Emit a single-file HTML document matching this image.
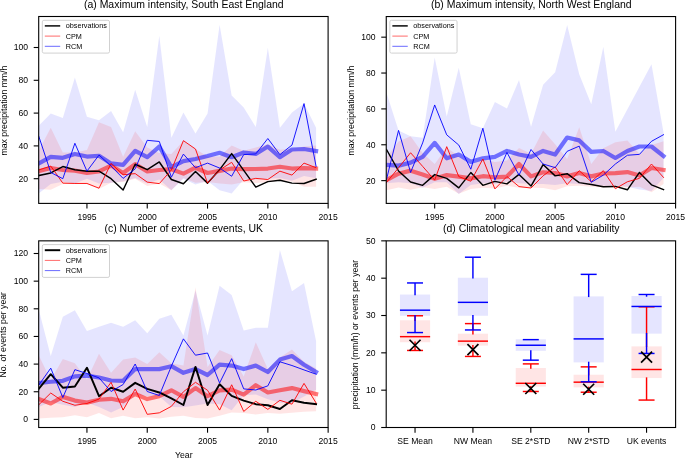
<!DOCTYPE html>
<html lang="en"><head><meta charset="utf-8"><title>Extreme precipitation figure</title>
<style>
html,body{margin:0;padding:0;background:#fff;}
body{width:685px;height:458px;overflow:hidden;}
svg{display:block;}
svg text{font-family:"Liberation Sans", Arial, Helvetica, sans-serif;fill:#000;}
</style></head><body>
<svg width="685" height="458" viewBox="0 0 685 458">
<rect width="685" height="458" fill="#fff"/>
<clipPath id="ca"><rect x="38.7" y="16.5" width="289.4" height="186.9"/></clipPath>
<g clip-path="url(#ca)">
<polygon points="38.7,125.73 50.76,113.59 62.82,118.02 74.88,77.51 86.94,116.87 99,120.15 111.06,110.97 123.12,132.29 135.18,89.65 147.24,126.88 159.3,35.86 171.36,137.7 183.42,112.61 195.48,133.44 207.54,113.59 219.6,24.87 231.66,95.55 243.72,107.52 255.78,126.88 267.84,47.83 279.9,127.86 291.96,112.61 304.02,103.59 316.08,127.86 316.08,178.37 304.02,176.08 291.96,180.67 279.9,177.88 267.84,178.7 255.78,179.52 243.72,179.52 231.66,193.46 219.6,190.34 207.54,181 195.48,184.6 183.42,178.7 171.36,190.34 159.3,179.52 147.24,183.62 135.18,178.04 123.12,181.16 111.06,182.64 99,183.62 86.94,178.7 74.88,183.62 62.82,181.65 50.76,183.95 38.7,193.46" fill="#0000ff" fill-opacity="0.1"/>
<polygon points="38.7,150.82 50.76,127.86 62.82,152.46 74.88,152.46 86.94,150 99,122.28 111.06,127.04 123.12,156.72 135.18,131.14 147.24,147.54 159.3,153.12 171.36,154.1 183.42,140.65 195.48,149.02 207.54,156.4 219.6,156.4 231.66,145.41 243.72,150.82 255.78,147.54 267.84,144.26 279.9,149.84 291.96,148.69 304.02,146.56 316.08,145.41 316.08,186.74 304.02,186.74 291.96,181.82 279.9,180.5 267.84,182.31 255.78,182.96 243.72,182.31 231.66,184.6 219.6,183.62 207.54,181.98 195.48,182.8 183.42,178.04 171.36,190.18 159.3,183.62 147.24,186.08 135.18,178.7 123.12,181.98 111.06,182.64 99,189.03 86.94,183.95 74.88,183.95 62.82,183.95 50.76,189.69 38.7,189.03" fill="#ff0000" fill-opacity="0.1"/>
<polyline points="38.7,171.16 50.76,168.04 62.82,170.01 74.88,170.66 86.94,172.96 99,171.48 111.06,165.58 123.12,172.96 135.18,164.1 147.24,171.48 159.3,170.01 171.36,169.19 183.42,173.62 195.48,167.71 207.54,172.96 219.6,170.83 231.66,168.53 243.72,169.19 255.78,169.02 267.84,168.53 279.9,166.73 291.96,168.53 304.02,168.2 316.08,168.53" fill="none" stroke="#ff0000" stroke-width="4.2" stroke-opacity="0.52" stroke-linejoin="round" stroke-linecap="square"/>
<polyline points="38.7,163.45 50.76,156.89 62.82,157.87 74.88,153.94 86.94,156.56 99,155.74 111.06,163.45 123.12,164.92 135.18,150.98 147.24,157.22 159.3,146.56 171.36,167.06 183.42,161.15 195.48,159.02 207.54,156.07 219.6,152.79 231.66,157.22 243.72,152.46 255.78,153.94 267.84,146.56 279.9,157.22 291.96,149.51 304.02,149.02 316.08,150.98" fill="none" stroke="#0000ff" stroke-width="4.2" stroke-opacity="0.52" stroke-linejoin="round" stroke-linecap="square"/>
<polyline points="38.7,175.58 50.76,172.96 62.82,166.56 74.88,169.68 86.94,171.16 99,171.16 111.06,178.7 123.12,190.02 135.18,164.27 147.24,169.68 159.3,161.97 171.36,179.52 183.42,183.78 195.48,171.48 207.54,183.13 219.6,169.68 231.66,153.61 243.72,170.34 255.78,187.06 267.84,181.65 279.9,180.18 291.96,183.13 304.02,183.46 316.08,179.19" fill="none" stroke="#000" stroke-width="1.45" stroke-linejoin="round" stroke-linecap="square"/>
<polyline points="38.7,170.01 50.76,166.07 62.82,183.13 74.88,183.46 86.94,183.46 99,188.21 111.06,163.45 123.12,174.76 135.18,173.62 147.24,182.14 159.3,183.62 171.36,170.01 183.42,140.65 195.48,149.02 207.54,183.13 219.6,170.01 231.66,162.3 243.72,181 255.78,178.37 267.84,179.52 279.9,171.16 291.96,175.09 304.02,163.12 316.08,167.71" fill="none" stroke="#ff0000" stroke-width="0.9" stroke-linejoin="round" stroke-linecap="square"/>
<polyline points="38.7,136.06 50.76,172.47 62.82,178.7 74.88,143.28 86.94,171.16 99,155.08 111.06,166.07 123.12,178.37 135.18,168.86 147.24,140.32 159.3,141.47 171.36,177.22 183.42,154.1 195.48,167.71 207.54,163.12 219.6,168.04 231.66,176.24 243.72,154.59 255.78,153.94 267.84,138.52 279.9,154.59 291.96,145.08 304.02,103.59 316.08,166.4" fill="none" stroke="#0000ff" stroke-width="0.9" stroke-linejoin="round" stroke-linecap="square"/>
</g>
<rect x="42.3" y="20.3" width="67.2" height="32.8" rx="1.6" fill="#fff" fill-opacity="0.8" stroke="#ccc" stroke-width="0.9"/>
<line x1="44.8" x2="60.2" y1="25.9" y2="25.9" stroke="#000" stroke-width="1.45" stroke-opacity="1"/>
<text x="65.7" y="28.4" font-size="7.25">observations</text>
<line x1="44.8" x2="60.2" y1="36.1" y2="36.1" stroke="#ff0000" stroke-width="0.95" stroke-opacity="0.62"/>
<text x="65.7" y="38.6" font-size="7.25">CPM</text>
<line x1="44.8" x2="60.2" y1="46.3" y2="46.3" stroke="#0000ff" stroke-width="0.95" stroke-opacity="0.62"/>
<text x="65.7" y="48.8" font-size="7.25">RCM</text>
<rect x="38.7" y="16.5" width="289.4" height="186.9" fill="none" stroke="#000" stroke-width="1.1"/>
<line x1="86.94" x2="86.94" y1="203.4" y2="208.6" stroke="#000" stroke-width="1.1"/>
<text x="86.94" y="220.1" font-size="8.6" text-anchor="middle">1995</text>
<line x1="147.24" x2="147.24" y1="203.4" y2="208.6" stroke="#000" stroke-width="1.1"/>
<text x="147.24" y="220.1" font-size="8.6" text-anchor="middle">2000</text>
<line x1="207.54" x2="207.54" y1="203.4" y2="208.6" stroke="#000" stroke-width="1.1"/>
<text x="207.54" y="220.1" font-size="8.6" text-anchor="middle">2005</text>
<line x1="267.84" x2="267.84" y1="203.4" y2="208.6" stroke="#000" stroke-width="1.1"/>
<text x="267.84" y="220.1" font-size="8.6" text-anchor="middle">2010</text>
<line x1="328.14" x2="328.14" y1="203.4" y2="208.6" stroke="#000" stroke-width="1.1"/>
<text x="328.14" y="220.1" font-size="8.6" text-anchor="middle">2015</text>
<line x1="33.7" x2="38.7" y1="178.7" y2="178.7" stroke="#000" stroke-width="1.1"/>
<text x="28.1" y="181.6" font-size="8.6" text-anchor="end">20</text>
<line x1="33.7" x2="38.7" y1="145.9" y2="145.9" stroke="#000" stroke-width="1.1"/>
<text x="28.1" y="148.8" font-size="8.6" text-anchor="end">40</text>
<line x1="33.7" x2="38.7" y1="113.1" y2="113.1" stroke="#000" stroke-width="1.1"/>
<text x="28.1" y="116" font-size="8.6" text-anchor="end">60</text>
<line x1="33.7" x2="38.7" y1="80.3" y2="80.3" stroke="#000" stroke-width="1.1"/>
<text x="28.1" y="83.2" font-size="8.6" text-anchor="end">80</text>
<line x1="33.7" x2="38.7" y1="47.5" y2="47.5" stroke="#000" stroke-width="1.1"/>
<text x="28.1" y="50.4" font-size="8.6" text-anchor="end">100</text>
<text x="183.8" y="7.8" font-size="10.46" text-anchor="middle">(a) Maximum intensity, South East England</text>
<text transform="translate(6.5,110.55) rotate(-90)" font-size="8.7" text-anchor="middle">max precipitation mm/h</text>
<clipPath id="cb"><rect x="386.25" y="16.55" width="289.35" height="186.85"/></clipPath>
<g clip-path="url(#cb)">
<polygon points="386.5,92.79 398.55,130.38 410.59,136.29 422.63,137.72 434.68,57.53 446.73,116.6 458.77,67.73 470.81,124.29 482.86,128.23 494.9,101.92 506.95,108.54 519,80.08 531.04,126.8 543.09,84.74 555.13,72.21 567.17,24.95 579.22,74.17 591.26,104.25 603.31,46.79 615.36,131.63 627.4,109.26 639.44,86.7 651.49,64.33 663.54,132.53 663.54,177.99 651.49,191.06 639.44,189.45 627.4,186.77 615.36,185.87 603.31,185.87 591.26,184.98 579.22,184.08 567.17,183.19 555.13,184.98 543.09,184.08 531.04,184.08 519,183.19 506.95,181.4 494.9,184.08 482.86,183.19 470.81,184.98 458.77,194.1 446.73,182.29 434.68,182.29 422.63,187.84 410.59,183.19 398.55,182.29 386.5,183.19" fill="#0000ff" fill-opacity="0.1"/>
<polygon points="386.5,157.23 398.55,141.48 410.59,136.29 422.63,153.11 434.68,164.03 446.73,147.38 458.77,156.16 470.81,164.93 482.86,159.02 494.9,161.88 506.95,160.45 519,148.1 531.04,153.83 543.09,130.38 555.13,144.34 567.17,159.02 579.22,127.34 591.26,164.03 603.31,148.28 615.36,142.19 627.4,140.4 639.44,153.65 651.49,144.88 663.54,141.3 663.54,184.08 651.49,192.14 639.44,186.77 627.4,187.48 615.36,186.77 603.31,187.48 591.26,186.77 579.22,185.87 567.17,186.23 555.13,190.34 543.09,188.02 531.04,187.66 519,187.66 506.95,185.87 494.9,188.56 482.86,187.66 470.81,188.91 458.77,193.75 446.73,186.77 434.68,188.91 422.63,187.3 410.59,189.63 398.55,187.48 386.5,190.34" fill="#ff0000" fill-opacity="0.1"/>
<polyline points="386.5,180.14 398.55,173.7 410.59,170.66 422.63,174.41 434.68,178.71 446.73,175.13 458.77,176.56 470.81,178.35 482.86,176.2 494.9,177.28 506.95,176.56 519,164.03 531.04,176.38 543.09,172.27 555.13,172.98 567.17,176.38 579.22,172.98 591.26,176.38 603.31,173.52 615.36,173.16 627.4,172.09 639.44,175.49 651.49,167.97 663.54,169.94" fill="none" stroke="#ff0000" stroke-width="4.2" stroke-opacity="0.52" stroke-linejoin="round" stroke-linecap="square"/>
<polyline points="386.5,164.93 398.55,165.64 410.59,162.6 422.63,156.87 434.68,142.91 446.73,158.3 458.77,154.55 470.81,161.88 482.86,158.3 494.9,156.87 506.95,150.97 519,154.55 531.04,156.87 543.09,150.97 555.13,154.55 567.17,137.54 579.22,140.4 591.26,151.86 603.31,150.97 615.36,157.95 627.4,150.97 639.44,146.49 651.49,146.49 663.54,156.16" fill="none" stroke="#0000ff" stroke-width="4.2" stroke-opacity="0.52" stroke-linejoin="round" stroke-linecap="square"/>
<polyline points="386.5,149.53 398.55,171.01 410.59,181.93 422.63,185.33 434.68,174.59 446.73,178.35 458.77,187.84 470.81,172.62 482.86,185.33 494.9,181.4 506.95,183.9 519,174.41 531.04,186.05 543.09,164.57 555.13,175.85 567.17,173.7 579.22,182.65 591.26,184.44 603.31,186.77 615.36,186.41 627.4,189.81 639.44,172.44 651.49,184.8 663.54,189.63" fill="none" stroke="#000" stroke-width="1.45" stroke-linejoin="round" stroke-linecap="square"/>
<polyline points="386.5,182.47 398.55,167.79 410.59,152.75 422.63,166.36 434.68,180.14 446.73,146.67 458.77,176.56 470.81,181.22 482.86,159.02 494.9,188.91 506.95,176.56 519,186.59 531.04,188.02 543.09,175.85 555.13,166.9 567.17,184.62 579.22,170.66 591.26,181.75 603.31,170.66 615.36,188.73 627.4,181.75 639.44,178.35 651.49,164.03 663.54,177.46" fill="none" stroke="#ff0000" stroke-width="0.9" stroke-linejoin="round" stroke-linecap="square"/>
<polyline points="386.5,179.43 398.55,130.38 410.59,172.44 422.63,142.91 434.68,104.96 446.73,134.86 458.77,145.06 470.81,169.22 482.86,128.23 494.9,180.14 506.95,152.4 519,175.13 531.04,149.53 543.09,164.03 555.13,167.61 567.17,151.32 579.22,146.13 591.26,182.29 603.31,175.13 615.36,164.03 627.4,155.26 639.44,154.37 651.49,141.3 663.54,134.68" fill="none" stroke="#0000ff" stroke-width="0.9" stroke-linejoin="round" stroke-linecap="square"/>
</g>
<rect x="389.85" y="20.3" width="67.2" height="32.8" rx="1.6" fill="#fff" fill-opacity="0.8" stroke="#ccc" stroke-width="0.9"/>
<line x1="392.35" x2="407.75" y1="25.9" y2="25.9" stroke="#000" stroke-width="1.45" stroke-opacity="1"/>
<text x="413.25" y="28.4" font-size="7.25">observations</text>
<line x1="392.35" x2="407.75" y1="36.1" y2="36.1" stroke="#ff0000" stroke-width="0.95" stroke-opacity="0.62"/>
<text x="413.25" y="38.6" font-size="7.25">CPM</text>
<line x1="392.35" x2="407.75" y1="46.3" y2="46.3" stroke="#0000ff" stroke-width="0.95" stroke-opacity="0.62"/>
<text x="413.25" y="48.8" font-size="7.25">RCM</text>
<rect x="386.25" y="16.55" width="289.35" height="186.85" fill="none" stroke="#000" stroke-width="1.1"/>
<line x1="434.68" x2="434.68" y1="203.4" y2="208.6" stroke="#000" stroke-width="1.1"/>
<text x="434.68" y="220.1" font-size="8.6" text-anchor="middle">1995</text>
<line x1="494.9" x2="494.9" y1="203.4" y2="208.6" stroke="#000" stroke-width="1.1"/>
<text x="494.9" y="220.1" font-size="8.6" text-anchor="middle">2000</text>
<line x1="555.13" x2="555.13" y1="203.4" y2="208.6" stroke="#000" stroke-width="1.1"/>
<text x="555.13" y="220.1" font-size="8.6" text-anchor="middle">2005</text>
<line x1="615.36" x2="615.36" y1="203.4" y2="208.6" stroke="#000" stroke-width="1.1"/>
<text x="615.36" y="220.1" font-size="8.6" text-anchor="middle">2010</text>
<line x1="675.58" x2="675.58" y1="203.4" y2="208.6" stroke="#000" stroke-width="1.1"/>
<text x="675.58" y="220.1" font-size="8.6" text-anchor="middle">2015</text>
<line x1="381.25" x2="386.25" y1="180.63" y2="180.63" stroke="#000" stroke-width="1.1"/>
<text x="375.65" y="183.53" font-size="8.6" text-anchor="end">20</text>
<line x1="381.25" x2="386.25" y1="144.77" y2="144.77" stroke="#000" stroke-width="1.1"/>
<text x="375.65" y="147.67" font-size="8.6" text-anchor="end">40</text>
<line x1="381.25" x2="386.25" y1="108.9" y2="108.9" stroke="#000" stroke-width="1.1"/>
<text x="375.65" y="111.8" font-size="8.6" text-anchor="end">60</text>
<line x1="381.25" x2="386.25" y1="73.04" y2="73.04" stroke="#000" stroke-width="1.1"/>
<text x="375.65" y="75.94" font-size="8.6" text-anchor="end">80</text>
<line x1="381.25" x2="386.25" y1="37.17" y2="37.17" stroke="#000" stroke-width="1.1"/>
<text x="375.65" y="40.07" font-size="8.6" text-anchor="end">100</text>
<text x="531.32" y="7.85" font-size="10.46" text-anchor="middle">(b) Maximum intensity, North West England</text>
<text transform="translate(354.15,110.58) rotate(-90)" font-size="8.7" text-anchor="middle">max precipitation mm/h</text>
<clipPath id="cc"><rect x="38.7" y="240.85" width="289.4" height="186.65"/></clipPath>
<g clip-path="url(#cc)">
<polygon points="38.7,309.15 50.76,356.04 62.82,316.85 74.88,310.25 86.94,331.01 99,326.75 111.06,322.76 123.12,326.75 135.18,320.15 147.24,333.21 159.3,318.64 171.36,314.65 183.42,335.41 195.48,290.59 207.54,335.41 219.6,285.78 231.66,294.99 243.72,330.6 255.78,327.85 267.84,327.85 279.9,250.03 291.96,291.14 304.02,282.89 316.08,341.05 316.08,389.86 304.02,396.46 291.96,402.93 279.9,402.79 267.84,399.35 255.78,394.54 243.72,395.23 231.66,410.21 219.6,404.16 207.54,403.48 195.48,405.54 183.42,407.33 171.36,407.05 159.3,396.19 147.24,396.19 135.18,394.68 123.12,406.91 111.06,412.41 99,406.91 86.94,402.51 74.88,406.91 62.82,404.71 50.76,402.1 38.7,406.91" fill="#0000ff" fill-opacity="0.1"/>
<polygon points="38.7,355.35 50.76,380.1 62.82,358.93 74.88,363.33 86.94,379.41 99,353.84 111.06,372.81 123.12,359.61 135.18,357.41 147.24,364.01 159.3,352.33 171.36,363.19 183.42,365.53 195.48,287.29 207.54,366.9 219.6,350.12 231.66,355.21 243.72,376.39 255.78,342.29 267.84,369.1 279.9,357.41 291.96,349.44 304.02,361.81 316.08,368.41 316.08,411.31 304.02,411.73 291.96,412.83 279.9,413.65 267.84,413.1 255.78,414.61 243.72,413.1 231.66,412.41 219.6,415.85 207.54,418.6 195.48,417.91 183.42,415.71 171.36,416.68 159.3,418.6 147.24,417.36 135.18,418.33 123.12,415.71 111.06,418.33 99,413.1 86.94,417.36 74.88,415.16 62.82,417.36 50.76,417.78 38.7,418.6" fill="#ff0000" fill-opacity="0.1"/>
<polyline points="38.7,399.08 50.76,403.48 62.82,396.88 74.88,400.59 86.94,402.65 99,399.76 111.06,398.8 123.12,401.28 135.18,393.99 147.24,399.08 159.3,396.19 171.36,390.28 183.42,396.88 195.48,388.08 207.54,396.19 219.6,390.28 231.66,389.59 243.72,394.68 255.78,385.19 267.84,392.48 279.9,390.28 291.96,388.08 304.02,391.1 316.08,393.99" fill="none" stroke="#ff0000" stroke-width="4.2" stroke-opacity="0.52" stroke-linejoin="round" stroke-linecap="square"/>
<polyline points="38.7,382.99 50.76,381.75 62.82,380.79 74.88,376.39 86.94,375.7 99,377.49 111.06,380.51 123.12,380.79 135.18,369.1 147.24,369.1 159.3,369.1 171.36,366.21 183.42,372.81 195.48,369.1 207.54,375.01 219.6,364.7 231.66,365.53 243.72,369.1 255.78,365.53 267.84,371.99 279.9,359.61 291.96,356.04 304.02,364.7 316.08,371.99" fill="none" stroke="#0000ff" stroke-width="4.2" stroke-opacity="0.52" stroke-linejoin="round" stroke-linecap="square"/>
<polyline points="38.7,388.9 50.76,374.19 62.82,387.66 74.88,386.43 86.94,367.73 99,396.19 111.06,387.8 123.12,391.79 135.18,382.85 147.24,388.9 159.3,392.48 171.36,398.39 183.42,404.99 195.48,366.9 207.54,404.99 219.6,384.23 231.66,395.91 243.72,400.59 255.78,404.16 267.84,405.26 279.9,408.98 291.96,400.31 304.02,402.79 316.08,404.16" fill="none" stroke="#000" stroke-width="1.95" stroke-linejoin="round" stroke-linecap="square"/>
<polyline points="38.7,404.85 50.76,393.03 62.82,401.28 74.88,405.26 86.94,403.48 99,399.08 111.06,382.3 123.12,410.08 135.18,389.04 147.24,414.34 159.3,412.83 171.36,406.36 183.42,391.79 195.48,382.3 207.54,390.28 219.6,410.08 231.66,384.78 243.72,411.45 255.78,401.28 267.84,409.39 279.9,400.31 291.96,404.16 304.02,383.4 316.08,402.93" fill="none" stroke="#ff0000" stroke-width="0.9" stroke-linejoin="round" stroke-linecap="square"/>
<polyline points="38.7,385.19 50.76,368.14 62.82,397.56 74.88,369.65 86.94,373.5 99,377.9 111.06,391.51 123.12,384.5 135.18,364.01 147.24,391.51 159.3,395.5 171.36,366.21 183.42,338.85 195.48,355.21 207.54,353.01 219.6,382.99 231.66,358.65 243.72,388.9 255.78,390 267.84,385.88 279.9,361.81 291.96,365.53 304.02,369.93 316.08,374.19" fill="none" stroke="#0000ff" stroke-width="0.9" stroke-linejoin="round" stroke-linecap="square"/>
</g>
<rect x="42.3" y="244.6" width="67.2" height="32.8" rx="1.6" fill="#fff" fill-opacity="0.8" stroke="#ccc" stroke-width="0.9"/>
<line x1="44.8" x2="60.2" y1="250.2" y2="250.2" stroke="#000" stroke-width="1.95" stroke-opacity="1"/>
<text x="65.7" y="252.7" font-size="7.25">observations</text>
<line x1="44.8" x2="60.2" y1="260.4" y2="260.4" stroke="#ff0000" stroke-width="0.95" stroke-opacity="0.62"/>
<text x="65.7" y="262.9" font-size="7.25">CPM</text>
<line x1="44.8" x2="60.2" y1="270.6" y2="270.6" stroke="#0000ff" stroke-width="0.95" stroke-opacity="0.62"/>
<text x="65.7" y="273.1" font-size="7.25">RCM</text>
<rect x="38.7" y="240.85" width="289.4" height="186.65" fill="none" stroke="#000" stroke-width="1.1"/>
<line x1="86.94" x2="86.94" y1="427.5" y2="432.7" stroke="#000" stroke-width="1.1"/>
<text x="86.94" y="444.2" font-size="8.6" text-anchor="middle">1995</text>
<line x1="147.24" x2="147.24" y1="427.5" y2="432.7" stroke="#000" stroke-width="1.1"/>
<text x="147.24" y="444.2" font-size="8.6" text-anchor="middle">2000</text>
<line x1="207.54" x2="207.54" y1="427.5" y2="432.7" stroke="#000" stroke-width="1.1"/>
<text x="207.54" y="444.2" font-size="8.6" text-anchor="middle">2005</text>
<line x1="267.84" x2="267.84" y1="427.5" y2="432.7" stroke="#000" stroke-width="1.1"/>
<text x="267.84" y="444.2" font-size="8.6" text-anchor="middle">2010</text>
<line x1="328.14" x2="328.14" y1="427.5" y2="432.7" stroke="#000" stroke-width="1.1"/>
<text x="328.14" y="444.2" font-size="8.6" text-anchor="middle">2015</text>
<line x1="33.7" x2="38.7" y1="419.4" y2="419.4" stroke="#000" stroke-width="1.1"/>
<text x="28.1" y="422.3" font-size="8.6" text-anchor="end">0</text>
<line x1="33.7" x2="38.7" y1="391.75" y2="391.75" stroke="#000" stroke-width="1.1"/>
<text x="28.1" y="394.65" font-size="8.6" text-anchor="end">20</text>
<line x1="33.7" x2="38.7" y1="364.1" y2="364.1" stroke="#000" stroke-width="1.1"/>
<text x="28.1" y="367" font-size="8.6" text-anchor="end">40</text>
<line x1="33.7" x2="38.7" y1="336.45" y2="336.45" stroke="#000" stroke-width="1.1"/>
<text x="28.1" y="339.35" font-size="8.6" text-anchor="end">60</text>
<line x1="33.7" x2="38.7" y1="308.8" y2="308.8" stroke="#000" stroke-width="1.1"/>
<text x="28.1" y="311.7" font-size="8.6" text-anchor="end">80</text>
<line x1="33.7" x2="38.7" y1="281.15" y2="281.15" stroke="#000" stroke-width="1.1"/>
<text x="28.1" y="284.05" font-size="8.6" text-anchor="end">100</text>
<line x1="33.7" x2="38.7" y1="253.5" y2="253.5" stroke="#000" stroke-width="1.1"/>
<text x="28.1" y="256.4" font-size="8.6" text-anchor="end">120</text>
<text x="183.8" y="232.15" font-size="10.46" text-anchor="middle">(c) Number of extreme events, UK</text>
<text transform="translate(6.2,334.78) rotate(-90)" font-size="8.7" text-anchor="middle">No. of events per year</text>
<text x="183.8" y="457.5" font-size="8.7" text-anchor="middle">Year</text>
<rect x="399.94" y="320.25" width="30.2" height="22.01" fill="#ff0000" fill-opacity="0.1"/>
<rect x="399.94" y="294.51" width="30.2" height="21.26" fill="#0000ff" fill-opacity="0.1"/>
<line x1="415.04" x2="415.04" y1="341.56" y2="350.46" stroke="#ff0000" stroke-width="1.45"/>
<line x1="415.04" x2="415.04" y1="320.95" y2="315.77" stroke="#ff0000" stroke-width="1.45"/>
<line x1="407.04" x2="423.04" y1="350.46" y2="350.46" stroke="#ff0000" stroke-width="1.45"/>
<line x1="407.04" x2="423.04" y1="315.77" y2="315.77" stroke="#ff0000" stroke-width="1.45"/>
<line x1="399.94" x2="430.14" y1="336.66" y2="336.66" stroke="#ff0000" stroke-width="1.45"/>
<line x1="415.04" x2="415.04" y1="315.07" y2="332.56" stroke="#0000ff" stroke-width="1.45"/>
<line x1="415.04" x2="415.04" y1="295.21" y2="282.95" stroke="#0000ff" stroke-width="1.45"/>
<line x1="407.04" x2="423.04" y1="332.56" y2="332.56" stroke="#0000ff" stroke-width="1.45"/>
<line x1="407.04" x2="423.04" y1="282.95" y2="282.95" stroke="#0000ff" stroke-width="1.45"/>
<line x1="399.94" x2="430.14" y1="310.18" y2="310.18" stroke="#0000ff" stroke-width="1.45"/>
<path d="M409.54,339.74L420.54,350.74M409.54,350.74L420.54,339.74" stroke="#000" stroke-width="1.7" fill="none"/>
<rect x="457.82" y="333.68" width="30.2" height="11.94" fill="#ff0000" fill-opacity="0.1"/>
<rect x="457.82" y="277.73" width="30.2" height="38.05" fill="#0000ff" fill-opacity="0.1"/>
<line x1="472.92" x2="472.92" y1="344.91" y2="356.43" stroke="#ff0000" stroke-width="1.45"/>
<line x1="472.92" x2="472.92" y1="334.38" y2="323.61" stroke="#ff0000" stroke-width="1.45"/>
<line x1="464.92" x2="480.92" y1="356.43" y2="356.43" stroke="#ff0000" stroke-width="1.45"/>
<line x1="464.92" x2="480.92" y1="323.61" y2="323.61" stroke="#ff0000" stroke-width="1.45"/>
<line x1="457.82" x2="488.02" y1="341.14" y2="341.14" stroke="#ff0000" stroke-width="1.45"/>
<line x1="472.92" x2="472.92" y1="315.07" y2="329.95" stroke="#0000ff" stroke-width="1.45"/>
<line x1="472.92" x2="472.92" y1="278.43" y2="257.21" stroke="#0000ff" stroke-width="1.45"/>
<line x1="464.92" x2="480.92" y1="329.95" y2="329.95" stroke="#0000ff" stroke-width="1.45"/>
<line x1="464.92" x2="480.92" y1="257.21" y2="257.21" stroke="#0000ff" stroke-width="1.45"/>
<line x1="457.82" x2="488.02" y1="302.35" y2="302.35" stroke="#0000ff" stroke-width="1.45"/>
<path d="M467.42,344.22L478.42,355.22M467.42,355.22L478.42,344.22" stroke="#000" stroke-width="1.7" fill="none"/>
<rect x="515.7" y="367.99" width="30.2" height="18.65" fill="#ff0000" fill-opacity="0.1"/>
<rect x="515.7" y="339.27" width="30.2" height="11.56" fill="#0000ff" fill-opacity="0.1"/>
<line x1="530.8" x2="530.8" y1="385.94" y2="391.49" stroke="#ff0000" stroke-width="1.45"/>
<line x1="530.8" x2="530.8" y1="368.69" y2="363.89" stroke="#ff0000" stroke-width="1.45"/>
<line x1="522.8" x2="538.8" y1="391.49" y2="391.49" stroke="#ff0000" stroke-width="1.45"/>
<line x1="522.8" x2="538.8" y1="363.89" y2="363.89" stroke="#ff0000" stroke-width="1.45"/>
<line x1="515.7" x2="545.9" y1="383.29" y2="383.29" stroke="#ff0000" stroke-width="1.45"/>
<line x1="530.8" x2="530.8" y1="350.14" y2="360.16" stroke="#0000ff" stroke-width="1.45"/>
<line x1="530.8" x2="530.8" y1="339.97" y2="339.64" stroke="#0000ff" stroke-width="1.45"/>
<line x1="522.8" x2="538.8" y1="360.16" y2="360.16" stroke="#0000ff" stroke-width="1.45"/>
<line x1="522.8" x2="538.8" y1="339.64" y2="339.64" stroke="#0000ff" stroke-width="1.45"/>
<line x1="515.7" x2="545.9" y1="345.24" y2="345.24" stroke="#0000ff" stroke-width="1.45"/>
<path d="M525.3,383.01L536.3,394.01M525.3,394.01L536.3,383.01" stroke="#000" stroke-width="1.7" fill="none"/>
<rect x="573.58" y="374.71" width="30.2" height="12.68" fill="#ff0000" fill-opacity="0.1"/>
<rect x="573.58" y="296.38" width="30.2" height="66.02" fill="#0000ff" fill-opacity="0.1"/>
<line x1="588.68" x2="588.68" y1="386.69" y2="392.24" stroke="#ff0000" stroke-width="1.45"/>
<line x1="588.68" x2="588.68" y1="375.41" y2="366.87" stroke="#ff0000" stroke-width="1.45"/>
<line x1="580.68" x2="596.68" y1="392.24" y2="392.24" stroke="#ff0000" stroke-width="1.45"/>
<line x1="580.68" x2="596.68" y1="366.87" y2="366.87" stroke="#ff0000" stroke-width="1.45"/>
<line x1="573.58" x2="603.78" y1="382.17" y2="382.17" stroke="#ff0000" stroke-width="1.45"/>
<line x1="588.68" x2="588.68" y1="361.7" y2="381.79" stroke="#0000ff" stroke-width="1.45"/>
<line x1="588.68" x2="588.68" y1="297.08" y2="274.37" stroke="#0000ff" stroke-width="1.45"/>
<line x1="580.68" x2="596.68" y1="381.79" y2="381.79" stroke="#0000ff" stroke-width="1.45"/>
<line x1="580.68" x2="596.68" y1="274.37" y2="274.37" stroke="#0000ff" stroke-width="1.45"/>
<line x1="573.58" x2="603.78" y1="338.9" y2="338.9" stroke="#0000ff" stroke-width="1.45"/>
<path d="M583.18,383.75L594.18,394.75M583.18,394.75L594.18,383.75" stroke="#000" stroke-width="1.7" fill="none"/>
<rect x="631.46" y="346.36" width="30.2" height="31.7" fill="#ff0000" fill-opacity="0.1"/>
<rect x="631.46" y="296" width="30.2" height="37.67" fill="#0000ff" fill-opacity="0.1"/>
<line x1="646.56" x2="646.56" y1="377.36" y2="400.07" stroke="#ff0000" stroke-width="1.45"/>
<line x1="646.56" x2="646.56" y1="347.06" y2="306.82" stroke="#ff0000" stroke-width="1.45"/>
<line x1="638.56" x2="654.56" y1="400.07" y2="400.07" stroke="#ff0000" stroke-width="1.45"/>
<line x1="638.56" x2="654.56" y1="306.82" y2="306.82" stroke="#ff0000" stroke-width="1.45"/>
<line x1="631.46" x2="661.66" y1="369.49" y2="369.49" stroke="#ff0000" stroke-width="1.45"/>
<line x1="646.56" x2="646.56" y1="332.98" y2="353.45" stroke="#0000ff" stroke-width="1.45"/>
<line x1="646.56" x2="646.56" y1="296.7" y2="294.51" stroke="#0000ff" stroke-width="1.45"/>
<line x1="638.56" x2="654.56" y1="353.45" y2="353.45" stroke="#0000ff" stroke-width="1.45"/>
<line x1="638.56" x2="654.56" y1="294.51" y2="294.51" stroke="#0000ff" stroke-width="1.45"/>
<line x1="631.46" x2="661.66" y1="306.45" y2="306.45" stroke="#0000ff" stroke-width="1.45"/>
<path d="M641.06,351.68L652.06,362.68M641.06,362.68L652.06,351.68" stroke="#000" stroke-width="1.7" fill="none"/>
<rect x="386.2" y="240.85" width="289.4" height="186.65" fill="none" stroke="#000" stroke-width="1.1"/>
<line x1="415.04" x2="415.04" y1="427.5" y2="432.7" stroke="#000" stroke-width="1.1"/>
<text x="415.04" y="444.2" font-size="8.6" text-anchor="middle">SE Mean</text>
<line x1="472.92" x2="472.92" y1="427.5" y2="432.7" stroke="#000" stroke-width="1.1"/>
<text x="472.92" y="444.2" font-size="8.6" text-anchor="middle">NW Mean</text>
<line x1="530.8" x2="530.8" y1="427.5" y2="432.7" stroke="#000" stroke-width="1.1"/>
<text x="530.8" y="444.2" font-size="8.6" text-anchor="middle">SE 2*STD</text>
<line x1="588.68" x2="588.68" y1="427.5" y2="432.7" stroke="#000" stroke-width="1.1"/>
<text x="588.68" y="444.2" font-size="8.6" text-anchor="middle">NW 2*STD</text>
<line x1="646.56" x2="646.56" y1="427.5" y2="432.7" stroke="#000" stroke-width="1.1"/>
<text x="646.56" y="444.2" font-size="8.6" text-anchor="middle">UK events</text>
<line x1="381.2" x2="386.2" y1="427.5" y2="427.5" stroke="#000" stroke-width="1.1"/>
<text x="375.6" y="430.4" font-size="8.6" text-anchor="end">0</text>
<line x1="381.2" x2="386.2" y1="390.17" y2="390.17" stroke="#000" stroke-width="1.1"/>
<text x="375.6" y="393.07" font-size="8.6" text-anchor="end">10</text>
<line x1="381.2" x2="386.2" y1="352.84" y2="352.84" stroke="#000" stroke-width="1.1"/>
<text x="375.6" y="355.74" font-size="8.6" text-anchor="end">20</text>
<line x1="381.2" x2="386.2" y1="315.51" y2="315.51" stroke="#000" stroke-width="1.1"/>
<text x="375.6" y="318.41" font-size="8.6" text-anchor="end">30</text>
<line x1="381.2" x2="386.2" y1="278.18" y2="278.18" stroke="#000" stroke-width="1.1"/>
<text x="375.6" y="281.08" font-size="8.6" text-anchor="end">40</text>
<line x1="381.2" x2="386.2" y1="240.85" y2="240.85" stroke="#000" stroke-width="1.1"/>
<text x="375.6" y="243.75" font-size="8.6" text-anchor="end">50</text>
<text x="531.3" y="232.15" font-size="10.46" text-anchor="middle">(d) Climatological mean and variability</text>
<text transform="translate(358.4,334.57) rotate(-90)" font-size="8.7" text-anchor="middle">precipitation (mm/h) or events per year</text>
</svg>
</body></html>
